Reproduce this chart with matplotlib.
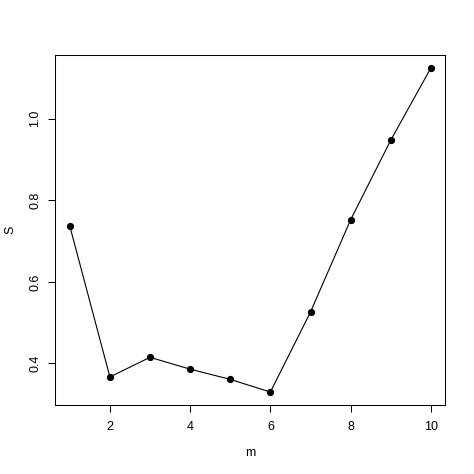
import matplotlib
matplotlib.use("Agg")
import matplotlib.pyplot as plt

# values
m = [1, 2, 3, 4, 5, 6, 7, 8, 9, 10]
S = [0.737, 0.367, 0.415, 0.386, 0.361, 0.330, 0.526, 0.752, 0.947, 1.124]
xticks = [2, 4, 6, 8, 10]
yticks = [0.4, 0.6, 0.8, 1.0]

plt.rcParams['font.family'] = ['Liberation Sans', 'DejaVu Sans']

fig = plt.figure(figsize=(4.74, 4.74), dpi=100)
ax = fig.add_axes([0.1167, 0.1456, 0.8228, 0.7384])

ax.plot(m, S, color='black', linewidth=0.8, marker='o', markersize=4.2)

# R style 4% padding
xr = max(m) - min(m)
yr = max(S) - min(S)
ax.set_xlim(min(m) - 0.04 * xr, max(m) + 0.04 * xr)
ax.set_ylim(min(S) - 0.04 * yr, max(S) + 0.04 * yr)

ax.set_xticks(xticks)
ax.set_yticks(yticks)
ax.set_xticklabels([str(t) for t in xticks])
ax.set_yticklabels([f'{t:.1f}' for t in yticks], rotation=90, va='center')
ax.tick_params(length=5, width=0.75, labelsize=9, colors='black')
ax.tick_params(axis='x', pad=6.5)
ax.tick_params(axis='y', pad=5)
for sp in ax.spines.values():
    sp.set_linewidth(0.75)

ax.set_xlabel('m', fontsize=9, va='center')
ax.set_ylabel('S', fontsize=9, va='center')
ax.xaxis.set_label_coords(0.5, -0.137)
ax.yaxis.set_label_coords(-0.116, 0.5)

fig.savefig('out.png', dpi=100)
